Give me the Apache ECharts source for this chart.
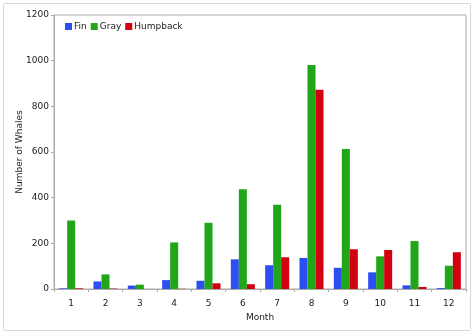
<!DOCTYPE html>
<html><head><meta charset="utf-8">
<script src="https://cdn.jsdelivr.net/npm/echarts@6/dist/echarts.min.js"></script>
<style>html,body{margin:0;padding:0;background:#fff}#c{width:474px;height:335px}</style>
</head><body><div id="c"></div>
<script>
const months = ['1','2','3','4','5','6','7','8','9','10','11','12'];
const fin = [3, 33, 15, 39, 36, 130, 104, 136, 93, 73, 16, 4];
const gray = [300, 64, 19, 204, 290, 437, 369, 981, 613, 143, 210, 102];
const humpback = [3, 2, 0, 1, 25, 21, 139, 873, 174, 171, 9, 161];
const yTicks = [0, 200, 400, 600, 800, 1000, 1200];

const font = 'DejaVu Sans';
const chart = echarts.init(document.getElementById('c'));
function bar(name, data, color) {
  return { name, type: 'bar', data, barGap: '0%', barCategoryGap: '30%',
    itemStyle: { color } };
}
chart.setOption({
  animation: false,
  graphic: [{ type: 'rect', shape: { x: 3.5, y: 3.5, width: 467, height: 327, r: 1 },
    style: { fill: 'none', stroke: '#d8d8d8', lineWidth: 1 }, z: -1 }],
  grid: { left: 54, top: 15, right: 8, bottom: 46, show: true, borderColor: '#aaaaaa', borderWidth: 1 },
  legend: { left: 60, top: 17, itemWidth: 7, itemHeight: 7, itemGap: 4, icon: 'rect',
    textStyle: { fontFamily: font, fontSize: 9, color: '#222', padding: [0, 0, 0, -3] } },
  xAxis: { type: 'category', data: months, name: 'Month', nameLocation: 'middle', nameGap: 23,
    nameTextStyle: { fontFamily: font, fontSize: 9, color: '#222' },
    axisLine: { lineStyle: { color: '#aaaaaa' } },
    axisTick: { show: true, length: 3, lineStyle: { color: '#aaaaaa' } },
    axisLabel: { fontFamily: font, fontSize: 9, color: '#222', margin: 10 } },
  yAxis: { type: 'value', min: yTicks[0], max: yTicks[yTicks.length - 1], interval: 200,
    name: 'Number of Whales', nameLocation: 'middle', nameGap: 30, nameRotate: 90,
    nameMoveOverlap: false,
    nameTextStyle: { fontFamily: font, fontSize: 9, color: '#222' },
    axisLine: { show: true, lineStyle: { color: '#aaaaaa' } },
    axisTick: { show: true, length: 3, lineStyle: { color: '#aaaaaa' } },
    splitLine: { show: false },
    axisLabel: { fontFamily: font, fontSize: 9, color: '#222', margin: 5,
      formatter: v => String(v) } },
  series: [
    bar('Fin', fin, '#2b4ff0'),
    bar('Gray', gray, '#21a61a'),
    bar('Humpback', humpback, '#d20010')
  ]
});
</script></body></html>
